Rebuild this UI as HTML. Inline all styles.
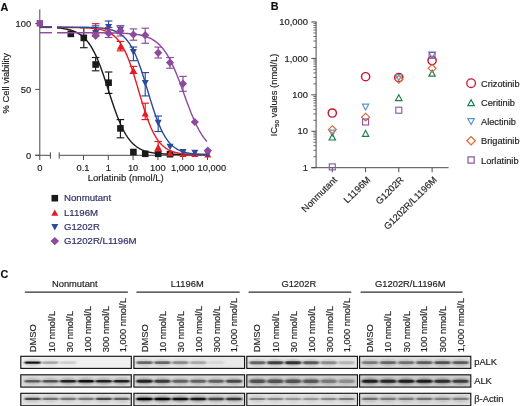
<!DOCTYPE html>
<html><head><meta charset="utf-8"><title>Figure</title>
<style>
html,body{margin:0;padding:0;background:#fff;}
svg{display:block;font-family:"Liberation Sans",sans-serif;}
text{stroke-width:0.18px;}
</style></head><body>
<svg width="520" height="406" viewBox="0 0 520 406">
<rect width="520" height="406" fill="#ffffff"/>
<g id="panelA">
<text x="0.50" y="10.80" font-size="10.8" text-anchor="start" fill="#111" stroke="#111" font-weight="bold">A</text>
<line x1="39.80" y1="9.40" x2="39.80" y2="160.00" stroke="#4a4a4a" stroke-width="1.0"/>
<line x1="35.20" y1="23.50" x2="39.80" y2="23.50" stroke="#4a4a4a" stroke-width="1.0"/>
<text x="31.20" y="26.80" font-size="9.35" text-anchor="end" fill="#1e1e1e" stroke="#1e1e1e">100</text>
<line x1="35.20" y1="89.40" x2="39.80" y2="89.40" stroke="#4a4a4a" stroke-width="1.0"/>
<text x="31.20" y="92.70" font-size="9.35" text-anchor="end" fill="#1e1e1e" stroke="#1e1e1e">50</text>
<line x1="35.20" y1="155.30" x2="39.80" y2="155.30" stroke="#4a4a4a" stroke-width="1.0"/>
<text x="31.20" y="158.60" font-size="9.35" text-anchor="end" fill="#1e1e1e" stroke="#1e1e1e">0</text>
<line x1="35.20" y1="155.30" x2="50.40" y2="155.30" stroke="#4a4a4a" stroke-width="1.0"/>
<line x1="50.40" y1="152.30" x2="50.40" y2="158.60" stroke="#4a4a4a" stroke-width="1.0"/>
<line x1="59.20" y1="152.30" x2="59.20" y2="158.60" stroke="#4a4a4a" stroke-width="1.0"/>
<line x1="59.20" y1="155.30" x2="207.90" y2="155.30" stroke="#4a4a4a" stroke-width="1.0"/>
<line x1="83.50" y1="155.30" x2="83.50" y2="160.00" stroke="#4a4a4a" stroke-width="1.0"/>
<text x="83.00" y="170.90" font-size="9.35" text-anchor="middle" fill="#1e1e1e" stroke="#1e1e1e">0.1</text>
<line x1="108.30" y1="155.30" x2="108.30" y2="160.00" stroke="#4a4a4a" stroke-width="1.0"/>
<text x="108.30" y="170.90" font-size="9.35" text-anchor="middle" fill="#1e1e1e" stroke="#1e1e1e">1</text>
<line x1="133.10" y1="155.30" x2="133.10" y2="160.00" stroke="#4a4a4a" stroke-width="1.0"/>
<text x="133.10" y="170.90" font-size="9.35" text-anchor="middle" fill="#1e1e1e" stroke="#1e1e1e">10</text>
<line x1="157.90" y1="155.30" x2="157.90" y2="160.00" stroke="#4a4a4a" stroke-width="1.0"/>
<text x="157.90" y="170.90" font-size="9.35" text-anchor="middle" fill="#1e1e1e" stroke="#1e1e1e">100</text>
<line x1="182.70" y1="155.30" x2="182.70" y2="160.00" stroke="#4a4a4a" stroke-width="1.0"/>
<text x="182.70" y="170.90" font-size="9.35" text-anchor="middle" fill="#1e1e1e" stroke="#1e1e1e">1,000</text>
<line x1="207.50" y1="155.30" x2="207.50" y2="160.00" stroke="#4a4a4a" stroke-width="1.0"/>
<text x="211.80" y="170.90" font-size="9.35" text-anchor="middle" fill="#1e1e1e" stroke="#1e1e1e">10,000</text>
<text x="39.80" y="170.90" font-size="9.35" text-anchor="middle" fill="#1e1e1e" stroke="#1e1e1e">0</text>
<text x="87.70" y="181.10" font-size="9.5" text-anchor="start" fill="#1e1e1e" stroke="#1e1e1e">Lorlatinib (nmol/L)</text>
<text transform="translate(9.00,83.30) rotate(-90)" font-size="9.35" text-anchor="middle" fill="#1e1e1e" stroke="#1e1e1e">% Cell viability</text>
<path d="M57.0,27.89 L58.0,27.97 L59.0,28.06 L60.0,28.16 L61.0,28.28 L62.0,28.40 L63.0,28.54 L64.0,28.69 L65.0,28.85 L66.0,29.03 L67.0,29.23 L68.0,29.45 L69.0,29.69 L70.0,29.95 L71.0,30.24 L72.0,30.56 L73.0,30.90 L74.0,31.28 L75.0,31.70 L76.0,32.16 L77.0,32.66 L78.0,33.20 L79.0,33.80 L80.0,34.45 L81.0,35.15 L82.0,35.93 L83.0,36.77 L84.0,37.68 L85.0,38.66 L86.0,39.73 L87.0,40.89 L88.0,42.14 L89.0,43.49 L90.0,44.93 L91.0,46.48 L92.0,48.14 L93.0,49.92 L94.0,51.80 L95.0,53.80 L96.0,55.92 L97.0,58.16 L98.0,60.51 L99.0,62.97 L100.0,65.53 L101.0,68.20 L102.0,70.96 L103.0,73.81 L104.0,76.73 L105.0,79.71 L106.0,82.75 L107.0,85.82 L108.0,88.92 L109.0,92.03 L110.0,95.13 L111.0,98.21 L112.0,101.25 L113.0,104.25 L114.0,107.18 L115.0,110.04 L116.0,112.82 L117.0,115.51 L118.0,118.10 L119.0,120.58 L120.0,122.95 L121.0,125.21 L122.0,127.35 L123.0,129.37 L124.0,131.28 L125.0,133.08 L126.0,134.76 L127.0,136.33 L128.0,137.80 L129.0,139.17 L130.0,140.43 L131.0,141.61 L132.0,142.70 L133.0,143.70 L134.0,144.63 L135.0,145.48 L136.0,146.26 L137.0,146.98 L138.0,147.65 L139.0,148.25 L140.0,148.81 L141.0,149.32 L142.0,149.78 L143.0,150.20 L144.0,150.59 L145.0,150.95 L146.0,151.27 L147.0,151.56 L148.0,151.83 L149.0,152.07 L150.0,152.30 L151.0,152.50 L152.0,152.68 L153.0,152.85 L154.0,153.00 L155.0,153.14 L156.0,153.27 L157.0,153.38 L158.0,153.49 L159.0,153.58 L160.0,153.67 L161.0,153.74 L162.0,153.81 L163.0,153.88 L164.0,153.94 L165.0,153.99 L166.0,154.04 L167.0,154.08 L168.0,154.12 L169.0,154.16 L170.0,154.19 L171.0,154.22 L172.0,154.25 L173.0,154.27 L174.0,154.29 L175.0,154.31 L176.0,154.33 L177.0,154.35 L178.0,154.36 L179.0,154.38 L180.0,154.39 L181.0,154.40 L182.0,154.41 L183.0,154.42 L184.0,154.43 L185.0,154.43 L186.0,154.44 L187.0,154.45 L188.0,154.45 L189.0,154.46 L190.0,154.46 L191.0,154.47 L192.0,154.47 L193.0,154.48 L194.0,154.48 L195.0,154.48 L196.0,154.48 L197.0,154.49 L198.0,154.49 L199.0,154.49 L200.0,154.49 L201.0,154.49 L202.0,154.50 L203.0,154.50 L204.0,154.50 L205.0,154.50 L206.0,154.50 L207.0,154.50" fill="none" stroke="#1a1a1a" stroke-width="1.4" stroke-linejoin="round"/><line x1="39.80" y1="27.06" x2="52.00" y2="27.06" stroke="#1a1a1a" stroke-width="1.4"/>
<rect x="67.53" y="30.60" width="6.6" height="6.6" fill="#1a1a1a"/>
<line x1="83.80" y1="27.60" x2="83.80" y2="47.70" stroke="#1a1a1a" stroke-width="1.15"/><line x1="80.00" y1="27.60" x2="87.60" y2="27.60" stroke="#1a1a1a" stroke-width="1.15"/><line x1="80.00" y1="47.70" x2="87.60" y2="47.70" stroke="#1a1a1a" stroke-width="1.15"/>
<rect x="80.50" y="34.60" width="6.6" height="6.6" fill="#1a1a1a"/>
<line x1="95.63" y1="57.50" x2="95.63" y2="70.80" stroke="#1a1a1a" stroke-width="1.15"/><line x1="91.83" y1="57.50" x2="99.43" y2="57.50" stroke="#1a1a1a" stroke-width="1.15"/><line x1="91.83" y1="70.80" x2="99.43" y2="70.80" stroke="#1a1a1a" stroke-width="1.15"/>
<rect x="92.33" y="61.20" width="6.6" height="6.6" fill="#1a1a1a"/>
<line x1="108.60" y1="72.00" x2="108.60" y2="93.40" stroke="#1a1a1a" stroke-width="1.15"/><line x1="104.80" y1="72.00" x2="112.40" y2="72.00" stroke="#1a1a1a" stroke-width="1.15"/><line x1="104.80" y1="93.40" x2="112.40" y2="93.40" stroke="#1a1a1a" stroke-width="1.15"/>
<rect x="105.30" y="79.40" width="6.6" height="6.6" fill="#1a1a1a"/>
<line x1="120.43" y1="119.60" x2="120.43" y2="137.80" stroke="#1a1a1a" stroke-width="1.15"/><line x1="116.63" y1="119.60" x2="124.23" y2="119.60" stroke="#1a1a1a" stroke-width="1.15"/><line x1="116.63" y1="137.80" x2="124.23" y2="137.80" stroke="#1a1a1a" stroke-width="1.15"/>
<rect x="117.13" y="125.10" width="6.6" height="6.6" fill="#1a1a1a"/>
<rect x="130.10" y="148.70" width="6.6" height="6.6" fill="#1a1a1a"/>
<rect x="141.93" y="150.50" width="6.6" height="6.6" fill="#1a1a1a"/>
<rect x="154.90" y="150.50" width="6.6" height="6.6" fill="#1a1a1a"/>
<rect x="166.73" y="150.90" width="6.6" height="6.6" fill="#1a1a1a"/>
<path d="M57.0,27.47 L58.0,27.48 L59.0,27.48 L60.0,27.48 L61.0,27.49 L62.0,27.49 L63.0,27.49 L64.0,27.50 L65.0,27.50 L66.0,27.51 L67.0,27.51 L68.0,27.52 L69.0,27.53 L70.0,27.54 L71.0,27.55 L72.0,27.56 L73.0,27.57 L74.0,27.58 L75.0,27.59 L76.0,27.61 L77.0,27.63 L78.0,27.65 L79.0,27.67 L80.0,27.69 L81.0,27.72 L82.0,27.75 L83.0,27.78 L84.0,27.82 L85.0,27.86 L86.0,27.91 L87.0,27.96 L88.0,28.01 L89.0,28.08 L90.0,28.15 L91.0,28.22 L92.0,28.31 L93.0,28.41 L94.0,28.51 L95.0,28.63 L96.0,28.76 L97.0,28.91 L98.0,29.07 L99.0,29.25 L100.0,29.45 L101.0,29.67 L102.0,29.91 L103.0,30.18 L104.0,30.48 L105.0,30.82 L106.0,31.18 L107.0,31.59 L108.0,32.04 L109.0,32.54 L110.0,33.08 L111.0,33.69 L112.0,34.35 L113.0,35.08 L114.0,35.89 L115.0,36.77 L116.0,37.73 L117.0,38.79 L118.0,39.94 L119.0,41.19 L120.0,42.56 L121.0,44.04 L122.0,45.64 L123.0,47.37 L124.0,49.23 L125.0,51.23 L126.0,53.36 L127.0,55.63 L128.0,58.05 L129.0,60.60 L130.0,63.28 L131.0,66.10 L132.0,69.03 L133.0,72.07 L134.0,75.22 L135.0,78.45 L136.0,81.75 L137.0,85.10 L138.0,88.48 L139.0,91.88 L140.0,95.28 L141.0,98.65 L142.0,101.98 L143.0,105.25 L144.0,108.45 L145.0,111.55 L146.0,114.55 L147.0,117.44 L148.0,120.20 L149.0,122.83 L150.0,125.32 L151.0,127.68 L152.0,129.90 L153.0,131.97 L154.0,133.91 L155.0,135.72 L156.0,137.39 L157.0,138.95 L158.0,140.38 L159.0,141.70 L160.0,142.91 L161.0,144.02 L162.0,145.04 L163.0,145.97 L164.0,146.81 L165.0,147.59 L166.0,148.29 L167.0,148.93 L168.0,149.51 L169.0,150.03 L170.0,150.51 L171.0,150.94 L172.0,151.33 L173.0,151.68 L174.0,152.00 L175.0,152.29 L176.0,152.55 L177.0,152.78 L178.0,153.00 L179.0,153.19 L180.0,153.36 L181.0,153.51 L182.0,153.65 L183.0,153.78 L184.0,153.89 L185.0,153.99 L186.0,154.09 L187.0,154.17 L188.0,154.24 L189.0,154.31 L190.0,154.37 L191.0,154.42 L192.0,154.47 L193.0,154.52 L194.0,154.55 L195.0,154.59 L196.0,154.62 L197.0,154.65 L198.0,154.68 L199.0,154.70 L200.0,154.72 L201.0,154.74 L202.0,154.76 L203.0,154.77 L204.0,154.78 L205.0,154.80 L206.0,154.81 L207.0,154.82" fill="none" stroke="#e31b23" stroke-width="1.4" stroke-linejoin="round"/><line x1="39.80" y1="27.45" x2="52.00" y2="27.45" stroke="#e31b23" stroke-width="1.4"/>
<line x1="95.63" y1="23.70" x2="95.63" y2="34.00" stroke="#e31b23" stroke-width="1.15"/><line x1="91.83" y1="23.70" x2="99.43" y2="23.70" stroke="#e31b23" stroke-width="1.15"/><line x1="91.83" y1="34.00" x2="99.43" y2="34.00" stroke="#e31b23" stroke-width="1.15"/>
<polygon points="92.13,32.70 99.13,32.70 95.63,26.30" fill="#e31b23"/>
<line x1="108.60" y1="27.50" x2="108.60" y2="33.50" stroke="#e31b23" stroke-width="1.15"/><line x1="104.80" y1="27.50" x2="112.40" y2="27.50" stroke="#e31b23" stroke-width="1.15"/><line x1="104.80" y1="33.50" x2="112.40" y2="33.50" stroke="#e31b23" stroke-width="1.15"/>
<polygon points="105.10,33.70 112.10,33.70 108.60,27.30" fill="#e31b23"/>
<line x1="120.43" y1="41.40" x2="120.43" y2="50.90" stroke="#e31b23" stroke-width="1.15"/><line x1="116.63" y1="41.40" x2="124.23" y2="41.40" stroke="#e31b23" stroke-width="1.15"/><line x1="116.63" y1="50.90" x2="124.23" y2="50.90" stroke="#e31b23" stroke-width="1.15"/>
<polygon points="116.93,49.70 123.93,49.70 120.43,43.30" fill="#e31b23"/>
<line x1="133.40" y1="66.40" x2="133.40" y2="73.50" stroke="#e31b23" stroke-width="1.15"/><line x1="129.60" y1="66.40" x2="137.20" y2="66.40" stroke="#e31b23" stroke-width="1.15"/><line x1="129.60" y1="73.50" x2="137.20" y2="73.50" stroke="#e31b23" stroke-width="1.15"/>
<polygon points="129.90,73.30 136.90,73.30 133.40,66.90" fill="#e31b23"/>
<line x1="145.23" y1="103.20" x2="145.23" y2="119.60" stroke="#e31b23" stroke-width="1.15"/><line x1="141.43" y1="103.20" x2="149.03" y2="103.20" stroke="#e31b23" stroke-width="1.15"/><line x1="141.43" y1="119.60" x2="149.03" y2="119.60" stroke="#e31b23" stroke-width="1.15"/>
<polygon points="141.73,116.50 148.73,116.50 145.23,110.10" fill="#e31b23"/>
<line x1="158.20" y1="141.50" x2="158.20" y2="151.00" stroke="#e31b23" stroke-width="1.15"/><line x1="154.40" y1="141.50" x2="162.00" y2="141.50" stroke="#e31b23" stroke-width="1.15"/><line x1="154.40" y1="151.00" x2="162.00" y2="151.00" stroke="#e31b23" stroke-width="1.15"/>
<polygon points="154.70,150.20 161.70,150.20 158.20,143.80" fill="#e31b23"/>
<polygon points="166.53,156.20 173.53,156.20 170.03,149.80" fill="#e31b23"/>
<polygon points="179.50,157.00 186.50,157.00 183.00,150.60" fill="#e31b23"/>
<polygon points="191.33,157.10 198.33,157.10 194.83,150.70" fill="#e31b23"/>
<polygon points="204.30,157.40 211.30,157.40 207.80,151.00" fill="#e31b23"/>
<path d="M57.0,27.07 L58.0,27.07 L59.0,27.07 L60.0,27.07 L61.0,27.07 L62.0,27.08 L63.0,27.08 L64.0,27.08 L65.0,27.08 L66.0,27.08 L67.0,27.09 L68.0,27.09 L69.0,27.09 L70.0,27.10 L71.0,27.10 L72.0,27.11 L73.0,27.11 L74.0,27.12 L75.0,27.12 L76.0,27.13 L77.0,27.14 L78.0,27.15 L79.0,27.16 L80.0,27.17 L81.0,27.18 L82.0,27.20 L83.0,27.21 L84.0,27.23 L85.0,27.25 L86.0,27.27 L87.0,27.29 L88.0,27.31 L89.0,27.34 L90.0,27.37 L91.0,27.41 L92.0,27.44 L93.0,27.49 L94.0,27.53 L95.0,27.59 L96.0,27.64 L97.0,27.71 L98.0,27.78 L99.0,27.85 L100.0,27.94 L101.0,28.04 L102.0,28.14 L103.0,28.26 L104.0,28.39 L105.0,28.54 L106.0,28.70 L107.0,28.87 L108.0,29.07 L109.0,29.29 L110.0,29.53 L111.0,29.79 L112.0,30.08 L113.0,30.40 L114.0,30.76 L115.0,31.15 L116.0,31.59 L117.0,32.06 L118.0,32.59 L119.0,33.16 L120.0,33.80 L121.0,34.49 L122.0,35.26 L123.0,36.09 L124.0,37.00 L125.0,38.00 L126.0,39.09 L127.0,40.27 L128.0,41.55 L129.0,42.94 L130.0,44.45 L131.0,46.07 L132.0,47.82 L133.0,49.69 L134.0,51.69 L135.0,53.82 L136.0,56.09 L137.0,58.49 L138.0,61.02 L139.0,63.68 L140.0,66.45 L141.0,69.34 L142.0,72.33 L143.0,75.42 L144.0,78.58 L145.0,81.81 L146.0,85.09 L147.0,88.40 L148.0,91.72 L149.0,95.04 L150.0,98.33 L151.0,101.59 L152.0,104.79 L153.0,107.92 L154.0,110.97 L155.0,113.91 L156.0,116.76 L157.0,119.48 L158.0,122.08 L159.0,124.55 L160.0,126.89 L161.0,129.10 L162.0,131.18 L163.0,133.12 L164.0,134.94 L165.0,136.63 L166.0,138.20 L167.0,139.65 L168.0,140.99 L169.0,142.23 L170.0,143.37 L171.0,144.41 L172.0,145.37 L173.0,146.25 L174.0,147.05 L175.0,147.79 L176.0,148.45 L177.0,149.06 L178.0,149.61 L179.0,150.12 L180.0,150.57 L181.0,150.99 L182.0,151.36 L183.0,151.71 L184.0,152.01 L185.0,152.29 L186.0,152.55 L187.0,152.78 L188.0,152.98 L189.0,153.17 L190.0,153.34 L191.0,153.49 L192.0,153.63 L193.0,153.76 L194.0,153.87 L195.0,153.97 L196.0,154.06 L197.0,154.14 L198.0,154.22 L199.0,154.29 L200.0,154.35 L201.0,154.40 L202.0,154.45 L203.0,154.50 L204.0,154.54 L205.0,154.57 L206.0,154.61 L207.0,154.63" fill="none" stroke="#2c4a9a" stroke-width="1.4" stroke-linejoin="round"/><line x1="39.80" y1="27.06" x2="52.00" y2="27.06" stroke="#2c4a9a" stroke-width="1.4"/>
<line x1="95.63" y1="25.80" x2="95.63" y2="36.00" stroke="#2c4a9a" stroke-width="1.15"/><line x1="91.83" y1="25.80" x2="99.43" y2="25.80" stroke="#2c4a9a" stroke-width="1.15"/><line x1="91.83" y1="36.00" x2="99.43" y2="36.00" stroke="#2c4a9a" stroke-width="1.15"/>
<polygon points="92.13,30.00 99.13,30.00 95.63,36.40" fill="#2c4a9a"/>
<line x1="108.60" y1="21.00" x2="108.60" y2="33.00" stroke="#2c4a9a" stroke-width="1.15"/><line x1="104.80" y1="21.00" x2="112.40" y2="21.00" stroke="#2c4a9a" stroke-width="1.15"/><line x1="104.80" y1="33.00" x2="112.40" y2="33.00" stroke="#2c4a9a" stroke-width="1.15"/>
<polygon points="105.10,24.00 112.10,24.00 108.60,30.40" fill="#2c4a9a"/>
<line x1="120.43" y1="25.80" x2="120.43" y2="33.60" stroke="#2c4a9a" stroke-width="1.15"/><line x1="116.63" y1="25.80" x2="124.23" y2="25.80" stroke="#2c4a9a" stroke-width="1.15"/><line x1="116.63" y1="33.60" x2="124.23" y2="33.60" stroke="#2c4a9a" stroke-width="1.15"/>
<polygon points="116.93,26.80 123.93,26.80 120.43,33.20" fill="#2c4a9a"/>
<line x1="133.40" y1="47.00" x2="133.40" y2="60.70" stroke="#2c4a9a" stroke-width="1.15"/><line x1="129.60" y1="47.00" x2="137.20" y2="47.00" stroke="#2c4a9a" stroke-width="1.15"/><line x1="129.60" y1="60.70" x2="137.20" y2="60.70" stroke="#2c4a9a" stroke-width="1.15"/>
<polygon points="129.90,49.10 136.90,49.10 133.40,55.50" fill="#2c4a9a"/>
<line x1="145.23" y1="72.60" x2="145.23" y2="95.90" stroke="#2c4a9a" stroke-width="1.15"/><line x1="141.43" y1="72.60" x2="149.03" y2="72.60" stroke="#2c4a9a" stroke-width="1.15"/><line x1="141.43" y1="95.90" x2="149.03" y2="95.90" stroke="#2c4a9a" stroke-width="1.15"/>
<polygon points="141.73,80.10 148.73,80.10 145.23,86.50" fill="#2c4a9a"/>
<line x1="158.20" y1="116.00" x2="158.20" y2="131.50" stroke="#2c4a9a" stroke-width="1.15"/><line x1="154.40" y1="116.00" x2="162.00" y2="116.00" stroke="#2c4a9a" stroke-width="1.15"/><line x1="154.40" y1="131.50" x2="162.00" y2="131.50" stroke="#2c4a9a" stroke-width="1.15"/>
<polygon points="154.70,119.80 161.70,119.80 158.20,126.20" fill="#2c4a9a"/>
<polygon points="166.53,143.80 173.53,143.80 170.03,150.20" fill="#2c4a9a"/>
<polygon points="179.50,149.10 186.50,149.10 183.00,155.50" fill="#2c4a9a"/>
<polygon points="191.33,149.80 198.33,149.80 194.83,156.20" fill="#2c4a9a"/>
<polygon points="204.30,150.80 211.30,150.80 207.80,157.20" fill="#2c4a9a"/>
<path d="M57.0,32.73 L58.0,32.73 L59.0,32.73 L60.0,32.73 L61.0,32.73 L62.0,32.73 L63.0,32.73 L64.0,32.73 L65.0,32.73 L66.0,32.73 L67.0,32.73 L68.0,32.73 L69.0,32.73 L70.0,32.73 L71.0,32.73 L72.0,32.73 L73.0,32.73 L74.0,32.73 L75.0,32.73 L76.0,32.73 L77.0,32.73 L78.0,32.73 L79.0,32.74 L80.0,32.74 L81.0,32.74 L82.0,32.74 L83.0,32.74 L84.0,32.74 L85.0,32.74 L86.0,32.74 L87.0,32.75 L88.0,32.75 L89.0,32.75 L90.0,32.75 L91.0,32.75 L92.0,32.76 L93.0,32.76 L94.0,32.76 L95.0,32.77 L96.0,32.77 L97.0,32.77 L98.0,32.78 L99.0,32.78 L100.0,32.79 L101.0,32.80 L102.0,32.80 L103.0,32.81 L104.0,32.82 L105.0,32.83 L106.0,32.83 L107.0,32.84 L108.0,32.86 L109.0,32.87 L110.0,32.88 L111.0,32.90 L112.0,32.91 L113.0,32.93 L114.0,32.95 L115.0,32.97 L116.0,32.99 L117.0,33.02 L118.0,33.05 L119.0,33.08 L120.0,33.11 L121.0,33.14 L122.0,33.18 L123.0,33.23 L124.0,33.27 L125.0,33.33 L126.0,33.38 L127.0,33.44 L128.0,33.51 L129.0,33.58 L130.0,33.66 L131.0,33.75 L132.0,33.85 L133.0,33.95 L134.0,34.07 L135.0,34.19 L136.0,34.33 L137.0,34.48 L138.0,34.64 L139.0,34.81 L140.0,35.01 L141.0,35.22 L142.0,35.45 L143.0,35.70 L144.0,35.97 L145.0,36.27 L146.0,36.59 L147.0,36.94 L148.0,37.33 L149.0,37.74 L150.0,38.19 L151.0,38.68 L152.0,39.21 L153.0,39.79 L154.0,40.41 L155.0,41.09 L156.0,41.82 L157.0,42.61 L158.0,43.46 L159.0,44.37 L160.0,45.36 L161.0,46.41 L162.0,47.55 L163.0,48.76 L164.0,50.06 L165.0,51.44 L166.0,52.92 L167.0,54.48 L168.0,56.14 L169.0,57.89 L170.0,59.74 L171.0,61.69 L172.0,63.73 L173.0,65.86 L174.0,68.08 L175.0,70.39 L176.0,72.78 L177.0,75.24 L178.0,77.78 L179.0,80.37 L180.0,83.02 L181.0,85.71 L182.0,88.44 L183.0,91.18 L184.0,93.94 L185.0,96.70 L186.0,99.45 L187.0,102.17 L188.0,104.86 L189.0,107.51 L190.0,110.11 L191.0,112.65 L192.0,115.12 L193.0,117.51 L194.0,119.83 L195.0,122.05 L196.0,124.19 L197.0,126.23 L198.0,128.18 L199.0,130.04 L200.0,131.79 L201.0,133.46 L202.0,135.03 L203.0,136.51 L204.0,137.90 L205.0,139.20 L206.0,140.42 L207.0,141.55" fill="none" stroke="#8c4a9e" stroke-width="1.4" stroke-linejoin="round"/><line x1="39.80" y1="32.73" x2="52.00" y2="32.73" stroke="#8c4a9e" stroke-width="1.4"/>
<polygon points="91.53,35.80 95.63,31.70 99.73,35.80 95.63,39.90" fill="#8c4a9e"/>
<line x1="108.60" y1="29.50" x2="108.60" y2="37.50" stroke="#8c4a9e" stroke-width="1.15"/><line x1="104.80" y1="29.50" x2="112.40" y2="29.50" stroke="#8c4a9e" stroke-width="1.15"/><line x1="104.80" y1="37.50" x2="112.40" y2="37.50" stroke="#8c4a9e" stroke-width="1.15"/>
<polygon points="104.50,33.30 108.60,29.20 112.70,33.30 108.60,37.40" fill="#8c4a9e"/>
<line x1="120.43" y1="25.70" x2="120.43" y2="36.00" stroke="#8c4a9e" stroke-width="1.15"/><line x1="116.63" y1="25.70" x2="124.23" y2="25.70" stroke="#8c4a9e" stroke-width="1.15"/><line x1="116.63" y1="36.00" x2="124.23" y2="36.00" stroke="#8c4a9e" stroke-width="1.15"/>
<polygon points="116.33,30.80 120.43,26.70 124.53,30.80 120.43,34.90" fill="#8c4a9e"/>
<line x1="133.40" y1="28.90" x2="133.40" y2="40.20" stroke="#8c4a9e" stroke-width="1.15"/><line x1="129.60" y1="28.90" x2="137.20" y2="28.90" stroke="#8c4a9e" stroke-width="1.15"/><line x1="129.60" y1="40.20" x2="137.20" y2="40.20" stroke="#8c4a9e" stroke-width="1.15"/>
<polygon points="129.30,34.50 133.40,30.40 137.50,34.50 133.40,38.60" fill="#8c4a9e"/>
<line x1="145.23" y1="28.20" x2="145.23" y2="43.30" stroke="#8c4a9e" stroke-width="1.15"/><line x1="141.43" y1="28.20" x2="149.03" y2="28.20" stroke="#8c4a9e" stroke-width="1.15"/><line x1="141.43" y1="43.30" x2="149.03" y2="43.30" stroke="#8c4a9e" stroke-width="1.15"/>
<polygon points="141.13,35.20 145.23,31.10 149.33,35.20 145.23,39.30" fill="#8c4a9e"/>
<line x1="158.20" y1="47.10" x2="158.20" y2="58.00" stroke="#8c4a9e" stroke-width="1.15"/><line x1="154.40" y1="47.10" x2="162.00" y2="47.10" stroke="#8c4a9e" stroke-width="1.15"/><line x1="154.40" y1="58.00" x2="162.00" y2="58.00" stroke="#8c4a9e" stroke-width="1.15"/>
<polygon points="154.10,52.80 158.20,48.70 162.30,52.80 158.20,56.90" fill="#8c4a9e"/>
<line x1="170.03" y1="57.50" x2="170.03" y2="68.20" stroke="#8c4a9e" stroke-width="1.15"/><line x1="166.23" y1="57.50" x2="173.83" y2="57.50" stroke="#8c4a9e" stroke-width="1.15"/><line x1="166.23" y1="68.20" x2="173.83" y2="68.20" stroke="#8c4a9e" stroke-width="1.15"/>
<polygon points="165.93,62.60 170.03,58.50 174.13,62.60 170.03,66.70" fill="#8c4a9e"/>
<line x1="183.00" y1="76.40" x2="183.00" y2="91.30" stroke="#8c4a9e" stroke-width="1.15"/><line x1="179.20" y1="76.40" x2="186.80" y2="76.40" stroke="#8c4a9e" stroke-width="1.15"/><line x1="179.20" y1="91.30" x2="186.80" y2="91.30" stroke="#8c4a9e" stroke-width="1.15"/>
<polygon points="178.90,83.70 183.00,79.60 187.10,83.70 183.00,87.80" fill="#8c4a9e"/>
<polygon points="190.73,122.00 194.83,117.90 198.93,122.00 194.83,126.10" fill="#8c4a9e"/>
<polygon points="203.70,150.60 207.80,146.50 211.90,150.60 207.80,154.70" fill="#8c4a9e"/>
<rect x="36.60" y="20.10" width="6.4" height="6.4" fill="#8c4a9e"/>
<text x="64.00" y="201.40" font-size="9.65" text-anchor="start" fill="#2e3066" stroke="#2e3066">Nonmutant</text>
<text x="64.00" y="215.80" font-size="9.65" text-anchor="start" fill="#2e3066" stroke="#2e3066">L1196M</text>
<text x="64.00" y="230.10" font-size="9.65" text-anchor="start" fill="#2e3066" stroke="#2e3066">G1202R</text>
<text x="64.00" y="244.40" font-size="9.65" text-anchor="start" fill="#2e3066" stroke="#2e3066">G1202R/L1196M</text>
<rect x="51.50" y="194.90" width="6.6" height="6.6" fill="#1a1a1a"/>
<polygon points="51.30,215.80 58.30,215.80 54.80,209.40" fill="#e31b23"/>
<polygon points="51.30,224.00 58.30,224.00 54.80,230.40" fill="#2c4a9a"/>
<polygon points="50.50,241.10 54.80,237.00 59.10,241.10 54.80,245.20" fill="#8c4a9e"/>
</g>
<g id="panelB">
<text x="270.80" y="10.00" font-size="10.8" text-anchor="start" fill="#111" stroke="#111" font-weight="bold">B</text>
<line x1="316.10" y1="21.48" x2="316.10" y2="167.70" stroke="#4a4a4a" stroke-width="1.0"/>
<line x1="311.30" y1="167.70" x2="448.60" y2="167.70" stroke="#4a4a4a" stroke-width="1.0"/>
<line x1="311.30" y1="167.70" x2="316.10" y2="167.70" stroke="#4a4a4a" stroke-width="1.0"/>
<text x="307.90" y="170.90" font-size="9.35" text-anchor="end" fill="#1e1e1e" stroke="#1e1e1e">1</text>
<line x1="313.40" y1="156.73" x2="316.10" y2="156.73" stroke="#4a4a4a" stroke-width="0.8"/>
<line x1="313.40" y1="150.32" x2="316.10" y2="150.32" stroke="#4a4a4a" stroke-width="0.8"/>
<line x1="313.40" y1="145.77" x2="316.10" y2="145.77" stroke="#4a4a4a" stroke-width="0.8"/>
<line x1="313.40" y1="142.24" x2="316.10" y2="142.24" stroke="#4a4a4a" stroke-width="0.8"/>
<line x1="313.40" y1="139.35" x2="316.10" y2="139.35" stroke="#4a4a4a" stroke-width="0.8"/>
<line x1="313.40" y1="136.91" x2="316.10" y2="136.91" stroke="#4a4a4a" stroke-width="0.8"/>
<line x1="313.40" y1="134.80" x2="316.10" y2="134.80" stroke="#4a4a4a" stroke-width="0.8"/>
<line x1="313.40" y1="132.94" x2="316.10" y2="132.94" stroke="#4a4a4a" stroke-width="0.8"/>
<line x1="311.30" y1="131.27" x2="316.10" y2="131.27" stroke="#4a4a4a" stroke-width="1.0"/>
<text x="307.90" y="134.47" font-size="9.35" text-anchor="end" fill="#1e1e1e" stroke="#1e1e1e">10</text>
<line x1="313.40" y1="120.30" x2="316.10" y2="120.30" stroke="#4a4a4a" stroke-width="0.8"/>
<line x1="313.40" y1="113.89" x2="316.10" y2="113.89" stroke="#4a4a4a" stroke-width="0.8"/>
<line x1="313.40" y1="109.34" x2="316.10" y2="109.34" stroke="#4a4a4a" stroke-width="0.8"/>
<line x1="313.40" y1="105.81" x2="316.10" y2="105.81" stroke="#4a4a4a" stroke-width="0.8"/>
<line x1="313.40" y1="102.92" x2="316.10" y2="102.92" stroke="#4a4a4a" stroke-width="0.8"/>
<line x1="313.40" y1="100.48" x2="316.10" y2="100.48" stroke="#4a4a4a" stroke-width="0.8"/>
<line x1="313.40" y1="98.37" x2="316.10" y2="98.37" stroke="#4a4a4a" stroke-width="0.8"/>
<line x1="313.40" y1="96.51" x2="316.10" y2="96.51" stroke="#4a4a4a" stroke-width="0.8"/>
<line x1="311.30" y1="94.84" x2="316.10" y2="94.84" stroke="#4a4a4a" stroke-width="1.0"/>
<text x="307.90" y="98.04" font-size="9.35" text-anchor="end" fill="#1e1e1e" stroke="#1e1e1e">100</text>
<line x1="313.40" y1="83.87" x2="316.10" y2="83.87" stroke="#4a4a4a" stroke-width="0.8"/>
<line x1="313.40" y1="77.46" x2="316.10" y2="77.46" stroke="#4a4a4a" stroke-width="0.8"/>
<line x1="313.40" y1="72.91" x2="316.10" y2="72.91" stroke="#4a4a4a" stroke-width="0.8"/>
<line x1="313.40" y1="69.38" x2="316.10" y2="69.38" stroke="#4a4a4a" stroke-width="0.8"/>
<line x1="313.40" y1="66.49" x2="316.10" y2="66.49" stroke="#4a4a4a" stroke-width="0.8"/>
<line x1="313.40" y1="64.05" x2="316.10" y2="64.05" stroke="#4a4a4a" stroke-width="0.8"/>
<line x1="313.40" y1="61.94" x2="316.10" y2="61.94" stroke="#4a4a4a" stroke-width="0.8"/>
<line x1="313.40" y1="60.08" x2="316.10" y2="60.08" stroke="#4a4a4a" stroke-width="0.8"/>
<line x1="311.30" y1="58.41" x2="316.10" y2="58.41" stroke="#4a4a4a" stroke-width="1.0"/>
<text x="307.90" y="61.61" font-size="9.35" text-anchor="end" fill="#1e1e1e" stroke="#1e1e1e">1,000</text>
<line x1="313.40" y1="47.44" x2="316.10" y2="47.44" stroke="#4a4a4a" stroke-width="0.8"/>
<line x1="313.40" y1="41.03" x2="316.10" y2="41.03" stroke="#4a4a4a" stroke-width="0.8"/>
<line x1="313.40" y1="36.48" x2="316.10" y2="36.48" stroke="#4a4a4a" stroke-width="0.8"/>
<line x1="313.40" y1="32.95" x2="316.10" y2="32.95" stroke="#4a4a4a" stroke-width="0.8"/>
<line x1="313.40" y1="30.06" x2="316.10" y2="30.06" stroke="#4a4a4a" stroke-width="0.8"/>
<line x1="313.40" y1="27.62" x2="316.10" y2="27.62" stroke="#4a4a4a" stroke-width="0.8"/>
<line x1="313.40" y1="25.51" x2="316.10" y2="25.51" stroke="#4a4a4a" stroke-width="0.8"/>
<line x1="313.40" y1="23.65" x2="316.10" y2="23.65" stroke="#4a4a4a" stroke-width="0.8"/>
<line x1="311.30" y1="21.98" x2="316.10" y2="21.98" stroke="#4a4a4a" stroke-width="1.0"/>
<text x="307.90" y="25.18" font-size="9.35" text-anchor="end" fill="#1e1e1e" stroke="#1e1e1e">10,000</text>
<line x1="332.30" y1="167.70" x2="332.30" y2="172.20" stroke="#4a4a4a" stroke-width="1.0"/>
<line x1="365.60" y1="167.70" x2="365.60" y2="172.20" stroke="#4a4a4a" stroke-width="1.0"/>
<line x1="398.80" y1="167.70" x2="398.80" y2="172.20" stroke="#4a4a4a" stroke-width="1.0"/>
<line x1="432.10" y1="167.70" x2="432.10" y2="172.20" stroke="#4a4a4a" stroke-width="1.0"/>
<text transform="translate(337.70,180.40) rotate(-45)" font-size="9.35" text-anchor="end" fill="#1e1e1e" stroke="#1e1e1e">Nonmutant</text>
<text transform="translate(371.00,180.40) rotate(-45)" font-size="9.35" text-anchor="end" fill="#1e1e1e" stroke="#1e1e1e">L1196M</text>
<text transform="translate(404.20,180.40) rotate(-45)" font-size="9.35" text-anchor="end" fill="#1e1e1e" stroke="#1e1e1e">G1202R</text>
<text transform="translate(437.50,180.40) rotate(-45)" font-size="9.35" text-anchor="end" fill="#1e1e1e" stroke="#1e1e1e">G1202R/L1196M</text>
<text transform="translate(277.3,95.0) rotate(-90)" font-size="9.35" text-anchor="middle" fill="#1e1e1e" stroke="#1e1e1e">IC<tspan font-size="6.2" dy="2">50</tspan><tspan dy="-2"> values (nmol/L)</tspan></text>
<circle cx="332.30" cy="113.00" r="4.1" fill="none" stroke="#c8162f" stroke-width="1.45"/>
<circle cx="365.60" cy="76.70" r="4.1" fill="none" stroke="#c8162f" stroke-width="1.45"/>
<circle cx="398.80" cy="77.50" r="4.1" fill="none" stroke="#c8162f" stroke-width="1.45"/>
<circle cx="432.10" cy="60.50" r="4.1" fill="none" stroke="#c8162f" stroke-width="1.45"/>
<polygon points="329.10,130.05 335.50,130.05 332.30,135.95" fill="none" stroke="#5a97d0" stroke-width="1.15"/>
<polygon points="362.40,104.05 368.80,104.05 365.60,109.95" fill="none" stroke="#5a97d0" stroke-width="1.15"/>
<polygon points="395.60,74.55 402.00,74.55 398.80,80.45" fill="none" stroke="#5a97d0" stroke-width="1.15"/>
<polygon points="428.90,52.05 435.30,52.05 432.10,57.95" fill="none" stroke="#5a97d0" stroke-width="1.15"/>
<polygon points="329.10,139.95 335.50,139.95 332.30,134.05" fill="none" stroke="#1d7d4f" stroke-width="1.15"/>
<polygon points="362.40,136.35 368.80,136.35 365.60,130.45" fill="none" stroke="#1d7d4f" stroke-width="1.15"/>
<polygon points="395.60,100.55 402.00,100.55 398.80,94.65" fill="none" stroke="#1d7d4f" stroke-width="1.15"/>
<polygon points="428.90,76.15 435.30,76.15 432.10,70.25" fill="none" stroke="#1d7d4f" stroke-width="1.15"/>
<polygon points="328.30,129.60 332.30,125.80 336.30,129.60 332.30,133.40" fill="none" stroke="#dd6b3a" stroke-width="1.15"/>
<polygon points="361.60,117.20 365.60,113.40 369.60,117.20 365.60,121.00" fill="none" stroke="#dd6b3a" stroke-width="1.15"/>
<polygon points="394.80,79.30 398.80,75.50 402.80,79.30 398.80,83.10" fill="none" stroke="#dd6b3a" stroke-width="1.15"/>
<polygon points="428.10,68.30 432.10,64.50 436.10,68.30 432.10,72.10" fill="none" stroke="#dd6b3a" stroke-width="1.15"/>
<rect x="329.30" y="163.90" width="6.0" height="6.0" fill="none" stroke="#8d5aa6" stroke-width="1.15"/>
<rect x="362.60" y="119.00" width="6.0" height="6.0" fill="none" stroke="#8d5aa6" stroke-width="1.15"/>
<rect x="395.80" y="107.20" width="6.0" height="6.0" fill="none" stroke="#8d5aa6" stroke-width="1.15"/>
<rect x="429.10" y="52.40" width="6.0" height="6.0" fill="none" stroke="#8d5aa6" stroke-width="1.15"/>
<circle cx="471.10" cy="83.20" r="4.3" fill="none" stroke="#c8162f" stroke-width="1.3"/>
<polygon points="467.90,105.50 474.30,105.50 471.10,99.70" fill="none" stroke="#1d7d4f" stroke-width="1.25"/>
<polygon points="467.90,118.70 474.30,118.70 471.10,124.50" fill="none" stroke="#5a97d0" stroke-width="1.25"/>
<polygon points="466.80,140.80 471.10,136.60 475.40,140.80 471.10,145.00" fill="none" stroke="#dd6b3a" stroke-width="1.25"/>
<rect x="468.00" y="156.90" width="6.2" height="6.2" fill="none" stroke="#8d5aa6" stroke-width="1.25"/>
<text x="481.00" y="86.60" font-size="9.25" text-anchor="start" fill="#1e1e1e" stroke="#1e1e1e">Crizotinib</text>
<text x="481.00" y="105.70" font-size="9.25" text-anchor="start" fill="#1e1e1e" stroke="#1e1e1e">Ceritinib</text>
<text x="481.00" y="124.90" font-size="9.25" text-anchor="start" fill="#1e1e1e" stroke="#1e1e1e">Alectinib</text>
<text x="481.00" y="144.20" font-size="9.25" text-anchor="start" fill="#1e1e1e" stroke="#1e1e1e">Brigatinib</text>
<text x="481.00" y="163.50" font-size="9.25" text-anchor="start" fill="#1e1e1e" stroke="#1e1e1e">Lorlatinib</text>
</g>
<g id="panelC">
<text x="0.40" y="278.40" font-size="10.8" text-anchor="start" fill="#111" stroke="#111" font-weight="bold">C</text>
<line x1="24.80" y1="292.10" x2="127.90" y2="292.10" stroke="#2e2e2e" stroke-width="1.4"/>
<line x1="136.40" y1="292.10" x2="239.70" y2="292.10" stroke="#2e2e2e" stroke-width="1.4"/>
<line x1="248.60" y1="292.10" x2="351.30" y2="292.10" stroke="#2e2e2e" stroke-width="1.4"/>
<line x1="360.60" y1="292.10" x2="462.60" y2="292.10" stroke="#2e2e2e" stroke-width="1.4"/>
<text x="74.80" y="287.20" font-size="9.35" text-anchor="middle" fill="#1e1e1e" stroke="#1e1e1e">Nonmutant</text>
<text x="187.20" y="287.20" font-size="9.35" text-anchor="middle" fill="#1e1e1e" stroke="#1e1e1e">L1196M</text>
<text x="298.80" y="287.20" font-size="9.35" text-anchor="middle" fill="#1e1e1e" stroke="#1e1e1e">G1202R</text>
<text x="410.30" y="287.20" font-size="9.35" text-anchor="middle" fill="#1e1e1e" stroke="#1e1e1e">G1202R/L1196M</text>
<text transform="translate(36.20,352.20) rotate(-90)" font-size="9.35" text-anchor="start" fill="#1e1e1e" stroke="#1e1e1e">DMSO</text>
<text transform="translate(54.50,352.20) rotate(-90)" font-size="9.35" text-anchor="start" fill="#1e1e1e" stroke="#1e1e1e">10 nmol/L</text>
<text transform="translate(72.70,352.20) rotate(-90)" font-size="9.35" text-anchor="start" fill="#1e1e1e" stroke="#1e1e1e">30 nmol/L</text>
<text transform="translate(90.80,352.20) rotate(-90)" font-size="9.35" text-anchor="start" fill="#1e1e1e" stroke="#1e1e1e">100 nmol/L</text>
<text transform="translate(108.70,352.20) rotate(-90)" font-size="9.35" text-anchor="start" fill="#1e1e1e" stroke="#1e1e1e">300 nmol/L</text>
<text transform="translate(125.70,352.20) rotate(-90)" font-size="9.35" text-anchor="start" fill="#1e1e1e" stroke="#1e1e1e">1,000 nmol/L</text>
<text transform="translate(147.60,352.20) rotate(-90)" font-size="9.35" text-anchor="start" fill="#1e1e1e" stroke="#1e1e1e">DMSO</text>
<text transform="translate(165.90,352.20) rotate(-90)" font-size="9.35" text-anchor="start" fill="#1e1e1e" stroke="#1e1e1e">10 nmol/L</text>
<text transform="translate(184.10,352.20) rotate(-90)" font-size="9.35" text-anchor="start" fill="#1e1e1e" stroke="#1e1e1e">30 nmol/L</text>
<text transform="translate(202.20,352.20) rotate(-90)" font-size="9.35" text-anchor="start" fill="#1e1e1e" stroke="#1e1e1e">100 nmol/L</text>
<text transform="translate(220.10,352.20) rotate(-90)" font-size="9.35" text-anchor="start" fill="#1e1e1e" stroke="#1e1e1e">300 nmol/L</text>
<text transform="translate(237.10,352.20) rotate(-90)" font-size="9.35" text-anchor="start" fill="#1e1e1e" stroke="#1e1e1e">1,000 nmol/L</text>
<text transform="translate(260.40,352.20) rotate(-90)" font-size="9.35" text-anchor="start" fill="#1e1e1e" stroke="#1e1e1e">DMSO</text>
<text transform="translate(278.70,352.20) rotate(-90)" font-size="9.35" text-anchor="start" fill="#1e1e1e" stroke="#1e1e1e">10 nmol/L</text>
<text transform="translate(296.90,352.20) rotate(-90)" font-size="9.35" text-anchor="start" fill="#1e1e1e" stroke="#1e1e1e">30 nmol/L</text>
<text transform="translate(315.00,352.20) rotate(-90)" font-size="9.35" text-anchor="start" fill="#1e1e1e" stroke="#1e1e1e">100 nmol/L</text>
<text transform="translate(332.90,352.20) rotate(-90)" font-size="9.35" text-anchor="start" fill="#1e1e1e" stroke="#1e1e1e">300 nmol/L</text>
<text transform="translate(349.90,352.20) rotate(-90)" font-size="9.35" text-anchor="start" fill="#1e1e1e" stroke="#1e1e1e">1,000 nmol/L</text>
<text transform="translate(372.60,352.20) rotate(-90)" font-size="9.35" text-anchor="start" fill="#1e1e1e" stroke="#1e1e1e">DMSO</text>
<text transform="translate(391.10,352.20) rotate(-90)" font-size="9.35" text-anchor="start" fill="#1e1e1e" stroke="#1e1e1e">10 nmol/L</text>
<text transform="translate(409.50,352.20) rotate(-90)" font-size="9.35" text-anchor="start" fill="#1e1e1e" stroke="#1e1e1e">30 nmol/L</text>
<text transform="translate(427.40,352.20) rotate(-90)" font-size="9.35" text-anchor="start" fill="#1e1e1e" stroke="#1e1e1e">100 nmol/L</text>
<text transform="translate(445.60,352.20) rotate(-90)" font-size="9.35" text-anchor="start" fill="#1e1e1e" stroke="#1e1e1e">300 nmol/L</text>
<text transform="translate(463.60,352.20) rotate(-90)" font-size="9.35" text-anchor="start" fill="#1e1e1e" stroke="#1e1e1e">1,000 nmol/L</text>
<defs><filter id="bl" x="-10%" y="-150%" width="120%" height="400%"><feGaussianBlur stdDeviation="1.0 0.6"/></filter><filter id="bl2" x="-10%" y="-150%" width="120%" height="400%"><feGaussianBlur stdDeviation="1.4 1.3"/></filter></defs>
<clipPath id="cp00"><rect x="20.8" y="356.3" width="110.50" height="12.10"/></clipPath>
<rect x="20.8" y="356.3" width="110.50" height="12.10" fill="#f0f0f0"/>
<g clip-path="url(#cp00)"><g filter="url(#bl2)"><ellipse cx="32.60" cy="362.65" rx="8.8" ry="3.0" fill="#222" fill-opacity="0.21"/><ellipse cx="50.40" cy="362.65" rx="8.8" ry="3.0" fill="#222" fill-opacity="0.07"/><ellipse cx="68.20" cy="362.65" rx="8.8" ry="3.0" fill="#222" fill-opacity="0.03"/></g><g filter="url(#bl)"><rect x="24.60" y="361.51" width="16.0" height="2.27" rx="1.14" fill="#050505" fill-opacity="0.89"/><rect x="42.40" y="361.51" width="16.0" height="2.27" rx="1.14" fill="#050505" fill-opacity="0.27"/><rect x="60.20" y="361.51" width="16.0" height="2.27" rx="1.14" fill="#050505" fill-opacity="0.13"/></g></g>
<rect x="20.8" y="356.3" width="110.50" height="12.10" fill="none" stroke="#141414" stroke-width="1.15"/>
<clipPath id="cp01"><rect x="133.9" y="356.3" width="110.70" height="12.10"/></clipPath>
<rect x="133.9" y="356.3" width="110.70" height="12.10" fill="#e9e9e9"/>
<g clip-path="url(#cp01)"><g filter="url(#bl2)"><ellipse cx="144.50" cy="362.65" rx="8.8" ry="3.0" fill="#222" fill-opacity="0.18"/><ellipse cx="162.40" cy="362.65" rx="8.8" ry="3.0" fill="#222" fill-opacity="0.18"/><ellipse cx="180.30" cy="362.65" rx="8.8" ry="3.0" fill="#222" fill-opacity="0.12"/><ellipse cx="198.20" cy="362.65" rx="8.8" ry="3.0" fill="#222" fill-opacity="0.08"/><ellipse cx="216.10" cy="362.65" rx="8.8" ry="3.0" fill="#222" fill-opacity="0.02"/></g><g filter="url(#bl)"><rect x="136.50" y="361.34" width="16.0" height="2.62" rx="1.31" fill="#050505" fill-opacity="0.48"/><rect x="154.40" y="361.34" width="16.0" height="2.62" rx="1.31" fill="#050505" fill-opacity="0.48"/><rect x="172.30" y="361.34" width="16.0" height="2.62" rx="1.31" fill="#050505" fill-opacity="0.32"/><rect x="190.20" y="361.34" width="16.0" height="2.62" rx="1.31" fill="#050505" fill-opacity="0.22"/><rect x="208.10" y="361.34" width="16.0" height="2.62" rx="1.31" fill="#050505" fill-opacity="0.06"/></g></g>
<rect x="133.9" y="356.3" width="110.70" height="12.10" fill="none" stroke="#141414" stroke-width="1.15"/>
<clipPath id="cp02"><rect x="246.8" y="356.3" width="110.70" height="12.10"/></clipPath>
<rect x="246.8" y="356.3" width="110.70" height="12.10" fill="#e8e8e8"/>
<g clip-path="url(#cp02)"><g filter="url(#bl2)"><ellipse cx="257.50" cy="362.65" rx="8.8" ry="3.0" fill="#222" fill-opacity="0.21"/><ellipse cx="275.30" cy="362.65" rx="8.8" ry="3.0" fill="#222" fill-opacity="0.28"/><ellipse cx="293.10" cy="362.65" rx="8.8" ry="3.0" fill="#222" fill-opacity="0.31"/><ellipse cx="310.90" cy="362.65" rx="8.8" ry="3.0" fill="#222" fill-opacity="0.23"/><ellipse cx="328.70" cy="362.65" rx="8.8" ry="3.0" fill="#222" fill-opacity="0.14"/><ellipse cx="346.50" cy="362.65" rx="8.8" ry="3.0" fill="#222" fill-opacity="0.07"/></g><g filter="url(#bl)"><rect x="249.50" y="361.16" width="16.0" height="2.98" rx="1.49" fill="#050505" fill-opacity="0.48"/><rect x="267.30" y="361.16" width="16.0" height="2.98" rx="1.49" fill="#050505" fill-opacity="0.64"/><rect x="285.10" y="361.16" width="16.0" height="2.98" rx="1.49" fill="#050505" fill-opacity="0.70"/><rect x="302.90" y="361.16" width="16.0" height="2.98" rx="1.49" fill="#050505" fill-opacity="0.52"/><rect x="320.70" y="361.16" width="16.0" height="2.98" rx="1.49" fill="#050505" fill-opacity="0.32"/><rect x="338.50" y="361.16" width="16.0" height="2.98" rx="1.49" fill="#050505" fill-opacity="0.16"/></g></g>
<rect x="246.8" y="356.3" width="110.70" height="12.10" fill="none" stroke="#141414" stroke-width="1.15"/>
<clipPath id="cp03"><rect x="359.6" y="356.3" width="111.20" height="12.10"/></clipPath>
<rect x="359.6" y="356.3" width="111.20" height="12.10" fill="#dedede"/>
<g clip-path="url(#cp03)"><g filter="url(#bl2)"><ellipse cx="370.00" cy="362.65" rx="8.8" ry="3.0" fill="#222" fill-opacity="0.18"/><ellipse cx="388.10" cy="362.65" rx="8.8" ry="3.0" fill="#222" fill-opacity="0.22"/><ellipse cx="406.20" cy="362.65" rx="8.8" ry="3.0" fill="#222" fill-opacity="0.20"/><ellipse cx="424.30" cy="362.65" rx="8.8" ry="3.0" fill="#222" fill-opacity="0.24"/><ellipse cx="442.40" cy="362.65" rx="8.8" ry="3.0" fill="#222" fill-opacity="0.26"/><ellipse cx="460.50" cy="362.65" rx="8.8" ry="3.0" fill="#222" fill-opacity="0.24"/></g><g filter="url(#bl)"><rect x="362.00" y="361.25" width="16.0" height="2.80" rx="1.40" fill="#050505" fill-opacity="0.36"/><rect x="380.10" y="361.25" width="16.0" height="2.80" rx="1.40" fill="#050505" fill-opacity="0.44"/><rect x="398.20" y="361.25" width="16.0" height="2.80" rx="1.40" fill="#050505" fill-opacity="0.40"/><rect x="416.30" y="361.25" width="16.0" height="2.80" rx="1.40" fill="#050505" fill-opacity="0.48"/><rect x="434.40" y="361.25" width="16.0" height="2.80" rx="1.40" fill="#050505" fill-opacity="0.52"/><rect x="452.50" y="361.25" width="16.0" height="2.80" rx="1.40" fill="#050505" fill-opacity="0.48"/></g></g>
<rect x="359.6" y="356.3" width="111.20" height="12.10" fill="none" stroke="#141414" stroke-width="1.15"/>
<clipPath id="cp10"><rect x="20.8" y="374.8" width="110.50" height="12.30"/></clipPath>
<rect x="20.8" y="374.8" width="110.50" height="12.30" fill="#dcdcdc"/>
<g clip-path="url(#cp10)"><g filter="url(#bl2)"><ellipse cx="32.60" cy="381.25" rx="8.8" ry="3.0" fill="#222" fill-opacity="0.20"/><ellipse cx="50.40" cy="381.25" rx="8.8" ry="3.0" fill="#222" fill-opacity="0.22"/><ellipse cx="68.20" cy="381.25" rx="8.8" ry="3.0" fill="#222" fill-opacity="0.32"/><ellipse cx="86.00" cy="381.25" rx="8.8" ry="3.0" fill="#222" fill-opacity="0.36"/><ellipse cx="103.80" cy="381.25" rx="8.8" ry="3.0" fill="#222" fill-opacity="0.32"/><ellipse cx="121.60" cy="381.25" rx="8.8" ry="3.0" fill="#222" fill-opacity="0.32"/></g><g filter="url(#bl)"><rect x="24.60" y="379.94" width="16.0" height="2.62" rx="1.31" fill="#050505" fill-opacity="0.50"/><rect x="42.40" y="379.94" width="16.0" height="2.62" rx="1.31" fill="#050505" fill-opacity="0.55"/><rect x="60.20" y="379.94" width="16.0" height="2.62" rx="1.31" fill="#050505" fill-opacity="0.80"/><rect x="78.00" y="379.94" width="16.0" height="2.62" rx="1.31" fill="#050505" fill-opacity="0.90"/><rect x="95.80" y="379.94" width="16.0" height="2.62" rx="1.31" fill="#050505" fill-opacity="0.80"/><rect x="113.60" y="379.94" width="16.0" height="2.62" rx="1.31" fill="#050505" fill-opacity="0.80"/></g></g>
<rect x="20.8" y="374.8" width="110.50" height="12.30" fill="none" stroke="#141414" stroke-width="1.15"/>
<clipPath id="cp11"><rect x="133.9" y="374.8" width="110.70" height="12.30"/></clipPath>
<rect x="133.9" y="374.8" width="110.70" height="12.30" fill="#dadada"/>
<g clip-path="url(#cp11)"><g filter="url(#bl2)"><ellipse cx="144.50" cy="381.25" rx="8.8" ry="3.0" fill="#222" fill-opacity="0.38"/><ellipse cx="162.40" cy="381.25" rx="8.8" ry="3.0" fill="#222" fill-opacity="0.32"/><ellipse cx="180.30" cy="381.25" rx="8.8" ry="3.0" fill="#222" fill-opacity="0.23"/><ellipse cx="198.20" cy="381.25" rx="8.8" ry="3.0" fill="#222" fill-opacity="0.23"/><ellipse cx="216.10" cy="381.25" rx="8.8" ry="3.0" fill="#222" fill-opacity="0.23"/><ellipse cx="234.00" cy="381.25" rx="8.8" ry="3.0" fill="#222" fill-opacity="0.28"/></g><g filter="url(#bl)"><rect x="136.50" y="379.76" width="16.0" height="2.98" rx="1.49" fill="#050505" fill-opacity="0.77"/><rect x="154.40" y="379.76" width="16.0" height="2.98" rx="1.49" fill="#050505" fill-opacity="0.63"/><rect x="172.30" y="379.76" width="16.0" height="2.98" rx="1.49" fill="#050505" fill-opacity="0.45"/><rect x="190.20" y="379.76" width="16.0" height="2.98" rx="1.49" fill="#050505" fill-opacity="0.45"/><rect x="208.10" y="379.76" width="16.0" height="2.98" rx="1.49" fill="#050505" fill-opacity="0.45"/><rect x="226.00" y="379.76" width="16.0" height="2.98" rx="1.49" fill="#050505" fill-opacity="0.56"/></g></g>
<rect x="133.9" y="374.8" width="110.70" height="12.30" fill="none" stroke="#141414" stroke-width="1.15"/>
<clipPath id="cp12"><rect x="246.8" y="374.8" width="110.70" height="12.30"/></clipPath>
<rect x="246.8" y="374.8" width="110.70" height="12.30" fill="#d2d2d2"/>
<g clip-path="url(#cp12)"><g filter="url(#bl2)"><ellipse cx="257.50" cy="381.25" rx="8.8" ry="3.0" fill="#222" fill-opacity="0.35"/><ellipse cx="275.30" cy="381.25" rx="8.8" ry="3.0" fill="#222" fill-opacity="0.35"/><ellipse cx="293.10" cy="381.25" rx="8.8" ry="3.0" fill="#222" fill-opacity="0.35"/><ellipse cx="310.90" cy="381.25" rx="8.8" ry="3.0" fill="#222" fill-opacity="0.33"/><ellipse cx="328.70" cy="381.25" rx="8.8" ry="3.0" fill="#222" fill-opacity="0.23"/><ellipse cx="346.50" cy="381.25" rx="8.8" ry="3.0" fill="#222" fill-opacity="0.17"/></g><g filter="url(#bl)"><rect x="249.50" y="379.50" width="16.0" height="3.50" rx="1.75" fill="#050505" fill-opacity="0.45"/><rect x="267.30" y="379.50" width="16.0" height="3.50" rx="1.75" fill="#050505" fill-opacity="0.45"/><rect x="285.10" y="379.50" width="16.0" height="3.50" rx="1.75" fill="#050505" fill-opacity="0.45"/><rect x="302.90" y="379.50" width="16.0" height="3.50" rx="1.75" fill="#050505" fill-opacity="0.42"/><rect x="320.70" y="379.50" width="16.0" height="3.50" rx="1.75" fill="#050505" fill-opacity="0.29"/><rect x="338.50" y="379.50" width="16.0" height="3.50" rx="1.75" fill="#050505" fill-opacity="0.23"/></g></g>
<rect x="246.8" y="374.8" width="110.70" height="12.30" fill="none" stroke="#141414" stroke-width="1.15"/>
<clipPath id="cp13"><rect x="359.6" y="374.8" width="111.20" height="12.30"/></clipPath>
<rect x="359.6" y="374.8" width="111.20" height="12.30" fill="#cfcfcf"/>
<g clip-path="url(#cp13)"><g filter="url(#bl2)"><ellipse cx="370.00" cy="381.25" rx="8.8" ry="3.0" fill="#222" fill-opacity="0.45"/><ellipse cx="388.10" cy="381.25" rx="8.8" ry="3.0" fill="#222" fill-opacity="0.42"/><ellipse cx="406.20" cy="381.25" rx="8.8" ry="3.0" fill="#222" fill-opacity="0.45"/><ellipse cx="424.30" cy="381.25" rx="8.8" ry="3.0" fill="#222" fill-opacity="0.45"/><ellipse cx="442.40" cy="381.25" rx="8.8" ry="3.0" fill="#222" fill-opacity="0.40"/><ellipse cx="460.50" cy="381.25" rx="8.8" ry="3.0" fill="#222" fill-opacity="0.35"/></g><g filter="url(#bl)"><rect x="362.00" y="379.68" width="16.0" height="3.15" rx="1.57" fill="#050505" fill-opacity="0.77"/><rect x="380.10" y="379.68" width="16.0" height="3.15" rx="1.57" fill="#050505" fill-opacity="0.72"/><rect x="398.20" y="379.68" width="16.0" height="3.15" rx="1.57" fill="#050505" fill-opacity="0.77"/><rect x="416.30" y="379.68" width="16.0" height="3.15" rx="1.57" fill="#050505" fill-opacity="0.77"/><rect x="434.40" y="379.68" width="16.0" height="3.15" rx="1.57" fill="#050505" fill-opacity="0.68"/><rect x="452.50" y="379.68" width="16.0" height="3.15" rx="1.57" fill="#050505" fill-opacity="0.59"/></g></g>
<rect x="359.6" y="374.8" width="111.20" height="12.30" fill="none" stroke="#141414" stroke-width="1.15"/>
<clipPath id="cp20"><rect x="20.8" y="393.3" width="110.50" height="12.50"/></clipPath>
<rect x="20.8" y="393.3" width="110.50" height="12.50" fill="#e2e2e2"/>
<g clip-path="url(#cp20)"><g filter="url(#bl2)"><ellipse cx="32.60" cy="398.95" rx="8.8" ry="3.0" fill="#222" fill-opacity="0.20"/><ellipse cx="50.40" cy="398.95" rx="8.8" ry="3.0" fill="#222" fill-opacity="0.14"/><ellipse cx="68.20" cy="398.95" rx="8.8" ry="3.0" fill="#222" fill-opacity="0.13"/><ellipse cx="86.00" cy="398.95" rx="8.8" ry="3.0" fill="#222" fill-opacity="0.13"/><ellipse cx="103.80" cy="398.95" rx="8.8" ry="3.0" fill="#222" fill-opacity="0.20"/><ellipse cx="121.60" cy="398.95" rx="8.8" ry="3.0" fill="#222" fill-opacity="0.17"/></g><g filter="url(#bl)"><rect x="24.60" y="397.81" width="16.0" height="2.27" rx="1.14" fill="#050505" fill-opacity="0.62"/><rect x="42.40" y="397.81" width="16.0" height="2.27" rx="1.14" fill="#050505" fill-opacity="0.43"/><rect x="60.20" y="397.81" width="16.0" height="2.27" rx="1.14" fill="#050505" fill-opacity="0.40"/><rect x="78.00" y="397.81" width="16.0" height="2.27" rx="1.14" fill="#050505" fill-opacity="0.40"/><rect x="95.80" y="397.81" width="16.0" height="2.27" rx="1.14" fill="#050505" fill-opacity="0.62"/><rect x="113.60" y="397.81" width="16.0" height="2.27" rx="1.14" fill="#050505" fill-opacity="0.52"/></g></g>
<rect x="20.8" y="393.3" width="110.50" height="12.50" fill="none" stroke="#141414" stroke-width="1.15"/>
<clipPath id="cp21"><rect x="133.9" y="393.3" width="110.70" height="12.50"/></clipPath>
<rect x="133.9" y="393.3" width="110.70" height="12.50" fill="#dcdcdc"/>
<g clip-path="url(#cp21)"><g filter="url(#bl2)"><ellipse cx="144.50" cy="398.95" rx="8.8" ry="3.0" fill="#222" fill-opacity="0.43"/><ellipse cx="162.40" cy="398.95" rx="8.8" ry="3.0" fill="#222" fill-opacity="0.41"/><ellipse cx="180.30" cy="398.95" rx="8.8" ry="3.0" fill="#222" fill-opacity="0.38"/><ellipse cx="198.20" cy="398.95" rx="8.8" ry="3.0" fill="#222" fill-opacity="0.36"/><ellipse cx="216.10" cy="398.95" rx="8.8" ry="3.0" fill="#222" fill-opacity="0.27"/><ellipse cx="234.00" cy="398.95" rx="8.8" ry="3.0" fill="#222" fill-opacity="0.29"/></g><g filter="url(#bl)"><rect x="136.50" y="397.72" width="16.0" height="2.45" rx="1.22" fill="#050505" fill-opacity="1.00"/><rect x="154.40" y="397.72" width="16.0" height="2.45" rx="1.22" fill="#050505" fill-opacity="0.95"/><rect x="172.30" y="397.72" width="16.0" height="2.45" rx="1.22" fill="#050505" fill-opacity="0.89"/><rect x="190.20" y="397.72" width="16.0" height="2.45" rx="1.22" fill="#050505" fill-opacity="0.84"/><rect x="208.10" y="397.72" width="16.0" height="2.45" rx="1.22" fill="#050505" fill-opacity="0.63"/><rect x="226.00" y="397.72" width="16.0" height="2.45" rx="1.22" fill="#050505" fill-opacity="0.68"/></g></g>
<rect x="133.9" y="393.3" width="110.70" height="12.50" fill="none" stroke="#141414" stroke-width="1.15"/>
<clipPath id="cp22"><rect x="246.8" y="393.3" width="110.70" height="12.50"/></clipPath>
<rect x="246.8" y="393.3" width="110.70" height="12.50" fill="#e2e2e2"/>
<g clip-path="url(#cp22)"><g filter="url(#bl2)"><ellipse cx="257.50" cy="398.95" rx="8.8" ry="3.0" fill="#222" fill-opacity="0.14"/><ellipse cx="275.30" cy="398.95" rx="8.8" ry="3.0" fill="#222" fill-opacity="0.12"/><ellipse cx="293.10" cy="398.95" rx="8.8" ry="3.0" fill="#222" fill-opacity="0.10"/><ellipse cx="310.90" cy="398.95" rx="8.8" ry="3.0" fill="#222" fill-opacity="0.10"/><ellipse cx="328.70" cy="398.95" rx="8.8" ry="3.0" fill="#222" fill-opacity="0.12"/><ellipse cx="346.50" cy="398.95" rx="8.8" ry="3.0" fill="#222" fill-opacity="0.15"/></g><g filter="url(#bl)"><rect x="249.50" y="397.90" width="16.0" height="2.10" rx="1.05" fill="#050505" fill-opacity="0.36"/><rect x="267.30" y="397.90" width="16.0" height="2.10" rx="1.05" fill="#050505" fill-opacity="0.32"/><rect x="285.10" y="397.90" width="16.0" height="2.10" rx="1.05" fill="#050505" fill-opacity="0.26"/><rect x="302.90" y="397.90" width="16.0" height="2.10" rx="1.05" fill="#050505" fill-opacity="0.26"/><rect x="320.70" y="397.90" width="16.0" height="2.10" rx="1.05" fill="#050505" fill-opacity="0.32"/><rect x="338.50" y="397.90" width="16.0" height="2.10" rx="1.05" fill="#050505" fill-opacity="0.40"/></g></g>
<rect x="246.8" y="393.3" width="110.70" height="12.50" fill="none" stroke="#141414" stroke-width="1.15"/>
<clipPath id="cp23"><rect x="359.6" y="393.3" width="111.20" height="12.50"/></clipPath>
<rect x="359.6" y="393.3" width="111.20" height="12.50" fill="#dcdcdc"/>
<g clip-path="url(#cp23)"><g filter="url(#bl2)"><ellipse cx="370.00" cy="398.95" rx="8.8" ry="3.0" fill="#222" fill-opacity="0.17"/><ellipse cx="388.10" cy="398.95" rx="8.8" ry="3.0" fill="#222" fill-opacity="0.16"/><ellipse cx="406.20" cy="398.95" rx="8.8" ry="3.0" fill="#222" fill-opacity="0.16"/><ellipse cx="424.30" cy="398.95" rx="8.8" ry="3.0" fill="#222" fill-opacity="0.17"/><ellipse cx="442.40" cy="398.95" rx="8.8" ry="3.0" fill="#222" fill-opacity="0.15"/><ellipse cx="460.50" cy="398.95" rx="8.8" ry="3.0" fill="#222" fill-opacity="0.15"/></g><g filter="url(#bl)"><rect x="362.00" y="397.81" width="16.0" height="2.27" rx="1.14" fill="#050505" fill-opacity="0.42"/><rect x="380.10" y="397.81" width="16.0" height="2.27" rx="1.14" fill="#050505" fill-opacity="0.38"/><rect x="398.20" y="397.81" width="16.0" height="2.27" rx="1.14" fill="#050505" fill-opacity="0.38"/><rect x="416.30" y="397.81" width="16.0" height="2.27" rx="1.14" fill="#050505" fill-opacity="0.41"/><rect x="434.40" y="397.81" width="16.0" height="2.27" rx="1.14" fill="#050505" fill-opacity="0.36"/><rect x="452.50" y="397.81" width="16.0" height="2.27" rx="1.14" fill="#050505" fill-opacity="0.36"/></g></g>
<rect x="359.6" y="393.3" width="111.20" height="12.50" fill="none" stroke="#141414" stroke-width="1.15"/>
<text x="474.20" y="365.00" font-size="9.35" text-anchor="start" fill="#1e1e1e" stroke="#1e1e1e">pALK</text>
<text x="474.20" y="383.80" font-size="9.35" text-anchor="start" fill="#1e1e1e" stroke="#1e1e1e">ALK</text>
<text x="474.20" y="401.80" font-size="9.35" text-anchor="start" fill="#1e1e1e" stroke="#1e1e1e">β-Actin</text>
</g>
</svg>
</body></html>
